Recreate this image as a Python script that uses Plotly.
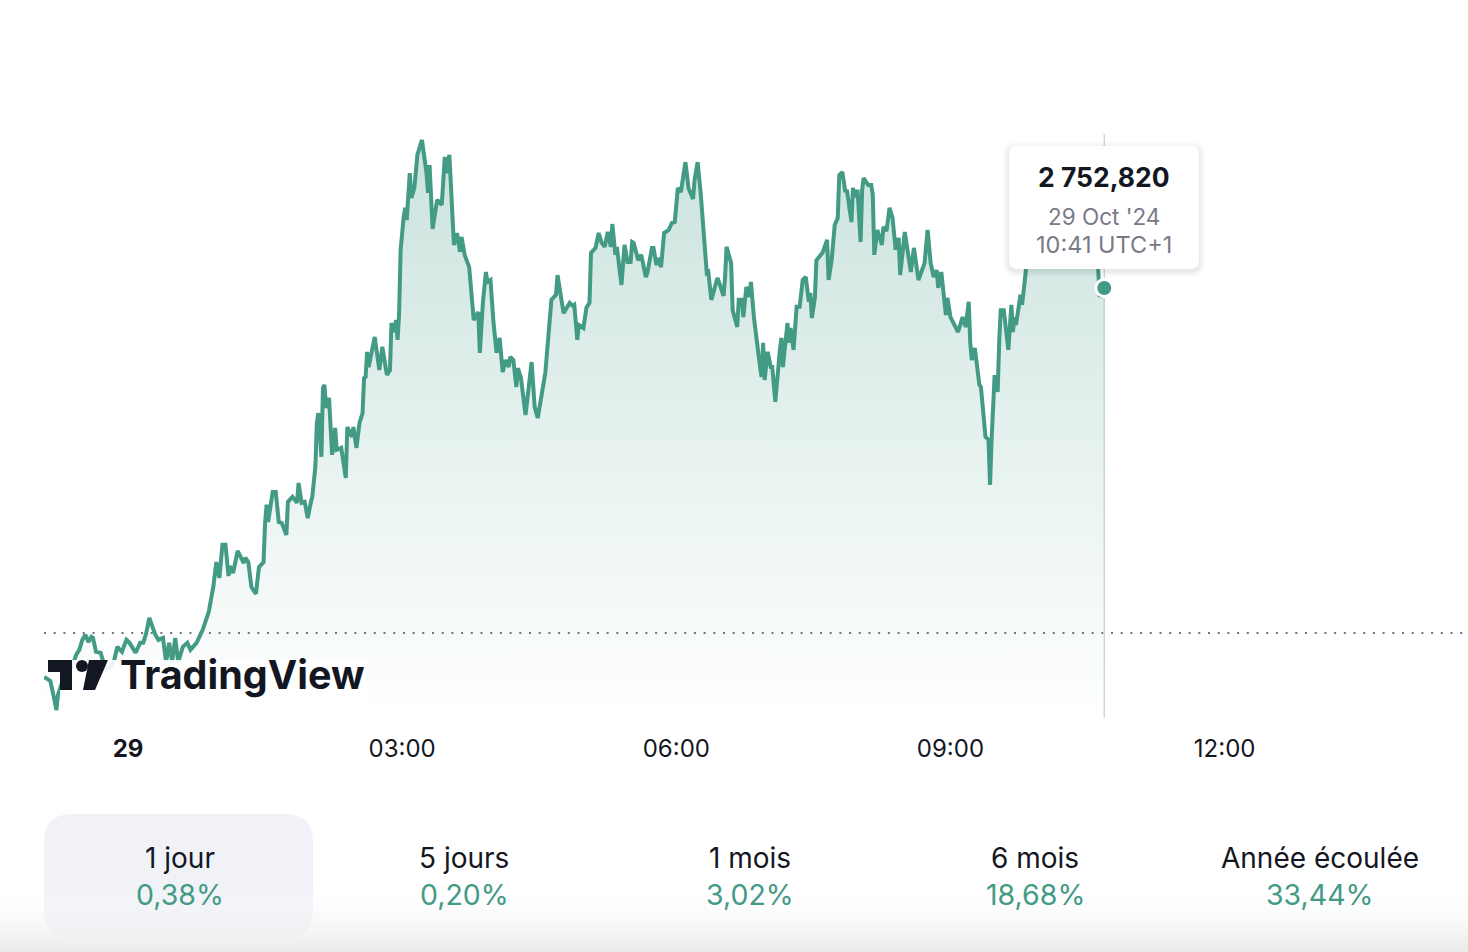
"""Gold price, 1 day view (TradingView mini chart)"""

import plotly.graph_objects as go

WIDTH = 1468
HEIGHT = 952

# minutes since midnight on 29 Oct '24, UTC+1
minutes = [
    -55, -51, -49, -47, -46, -41, -37, -34, -32, -30, -28, -26, -24, -23, -21, -18, -15, -12, -9, -7,
    -4, -1, 1, 5, 8, 10, 12, 14, 18, 20, 23, 25, 27, 29, 31, 33, 36, 39, 41, 45,
    49, 53, 56, 58, 60, 62, 64, 66, 67, 69, 72, 76, 77, 79, 81, 84, 86, 89, 90, 91,
    92, 95, 97, 99, 101, 104, 105, 108, 111, 112, 114, 116, 118, 120, 121, 123, 124, 125, 127, 128,
    129, 130, 132, 134, 136, 137, 140, 143, 144, 147, 148, 150, 152, 154, 155, 156, 157, 158, 162, 165,
    167, 170, 172, 173, 175, 176, 177, 178, 179, 181, 182, 183, 185, 186, 188, 190, 193, 196, 197, 198,
    200, 203, 206, 208, 209, 211, 214, 216, 218, 219, 221, 224, 227, 230, 231, 233, 235, 236, 238, 240,
    242, 244, 246, 248, 250, 251, 253, 255, 256, 258, 261, 265, 267, 269, 274, 278, 281, 282, 286, 290,
    292, 293, 295, 296, 299, 301, 303, 304, 307, 309, 311, 313, 315, 317, 318, 320, 321, 324, 326, 328,
    330, 331, 332, 335, 337, 340, 341, 344, 345, 347, 348, 350, 352, 355, 357, 359, 361, 363, 364, 366,
    368, 371, 372, 374, 376, 378, 380, 381, 383, 387, 388, 391, 392, 393, 396, 397, 400, 401, 403, 404,
    406, 408, 409, 411, 415, 416, 417, 418, 420, 422, 423, 425, 428, 429, 430, 433, 434, 435, 437, 439,
    441, 443, 445, 447, 448, 449, 451, 452, 456, 459, 460, 462, 464, 466, 467, 469, 471, 472, 475, 476,
    477, 479, 481, 482, 483, 486, 488, 489, 490, 492, 495, 496, 498, 500, 502, 504, 506, 507, 510, 514,
    516, 519, 523, 525, 527, 529, 531, 532, 534, 537, 538, 540, 542, 545, 548, 550, 552, 553, 554, 556,
    559, 560, 563, 565, 566, 567, 569, 571, 572, 573, 575, 578, 580, 581, 582, 583, 586, 587, 588, 590,
    594, 599, 605, 612, 619, 625, 632, 636, 637, 638, 641,
]
prices = [
    2741.07, 2740.95, 2740.53, 2740.07, 2740.53, 2741.22, 2741.34, 2741.74, 2741.89, 2742.19,
    2742.34, 2742.13, 2742.28, 2742.25, 2741.83, 2741.80, 2741.34, 2741.34, 2741.58, 2741.98,
    2741.83, 2742.19, 2742.10, 2741.80, 2742.10, 2742.10, 2742.40, 2742.85, 2742.34, 2742.19,
    2742.25, 2741.52, 2742.10, 2741.52, 2742.25, 2741.52, 2741.98, 2742.10, 2741.89, 2742.10,
    2742.49, 2743.03, 2743.79, 2744.54, 2744.06, 2745.06, 2745.06, 2744.12, 2744.42, 2744.21,
    2744.88, 2744.51, 2744.67, 2744.54, 2743.79, 2743.58, 2744.39, 2744.54, 2745.72, 2746.27,
    2745.75, 2746.66, 2746.66, 2745.75, 2745.72, 2745.36, 2746.36, 2746.51, 2746.33, 2746.93,
    2746.33, 2746.36, 2745.87, 2746.33, 2746.51, 2747.41, 2748.74, 2749.04, 2747.72, 2749.80,
    2749.89, 2749.20, 2749.50, 2747.78, 2748.59, 2747.93, 2747.99, 2747.08, 2748.62, 2748.32,
    2748.62, 2747.99, 2748.74, 2749.04, 2750.10, 2750.13, 2750.89, 2750.43, 2751.34, 2750.34,
    2751.04, 2750.19, 2750.34, 2751.76, 2751.49, 2751.85, 2751.25, 2752.06, 2753.97, 2754.96,
    2755.24, 2754.87, 2756.29, 2755.54, 2755.84, 2756.84, 2757.29, 2756.29, 2755.69, 2756.53,
    2754.60, 2755.48, 2755.33, 2756.78, 2756.29, 2756.84, 2754.12, 2754.48, 2753.91, 2754.36,
    2753.82, 2753.45, 2751.85, 2752.09, 2750.86, 2752.37, 2753.30, 2753.00, 2753.06, 2751.76,
    2750.86, 2751.31, 2750.28, 2750.64, 2750.43, 2750.74, 2750.64, 2749.83, 2750.40, 2750.10,
    2748.98, 2750.58, 2749.23, 2748.89, 2750.25, 2752.46, 2752.61, 2753.21, 2752.06, 2752.37,
    2752.28, 2752.31, 2751.25, 2751.70, 2751.61, 2752.22, 2752.37, 2753.88, 2754.03, 2754.48,
    2754.18, 2754.06, 2754.51, 2754.06, 2754.75, 2753.82, 2754.06, 2752.91, 2754.12, 2753.60,
    2753.60, 2754.21, 2754.18, 2753.66, 2753.82, 2753.15, 2753.27, 2754.03, 2754.03, 2753.51,
    2753.73, 2753.45, 2754.48, 2754.57, 2754.78, 2754.81, 2755.84, 2755.72, 2756.02, 2756.62,
    2755.84, 2755.51, 2756.08, 2756.62, 2755.69, 2754.48, 2753.27, 2753.30, 2752.46, 2753.12,
    2753.00, 2752.58, 2753.12, 2754.06, 2753.57, 2752.15, 2751.64, 2752.46, 2752.46, 2751.94,
    2752.85, 2752.55, 2753.00, 2751.91, 2750.43, 2750.13, 2751.16, 2750.04, 2750.89, 2750.43,
    2750.43, 2749.38, 2750.95, 2751.31, 2750.43, 2751.76, 2751.16, 2751.61, 2750.95, 2752.25,
    2752.25, 2753.06, 2753.15, 2752.40, 2752.67, 2751.91, 2752.52, 2753.66, 2753.88, 2754.27,
    2753.06, 2753.66, 2754.72, 2754.93, 2756.23, 2756.32, 2755.72, 2755.78, 2754.81, 2755.84,
    2755.57, 2755.78, 2754.21, 2755.78, 2756.14, 2755.93, 2755.93, 2755.63, 2753.82, 2754.57,
    2754.12, 2754.66, 2754.54, 2755.24, 2754.93, 2753.97, 2754.33, 2753.21, 2754.51, 2753.30,
    2754.03, 2753.06, 2753.57, 2754.57, 2753.57, 2753.15, 2753.36, 2752.82, 2753.30, 2752.00,
    2752.52, 2751.94, 2751.76, 2751.49, 2751.94, 2751.64, 2752.40, 2751.16, 2750.64, 2751.01,
    2749.89, 2749.83, 2748.32, 2748.23, 2746.87, 2748.23, 2750.19, 2749.68, 2751.19, 2752.15,
    2752.15, 2750.95, 2752.31, 2751.49, 2751.94, 2751.70, 2752.61, 2752.31, 2752.70, 2753.57,
    2754.42, 2755.02, 2755.48, 2755.17, 2755.78, 2755.33, 2754.87, 2754.12, 2753.36, 2752.55,
    2752.82,
]
prev_close = 2742.40

tick_minutes = [0, 180, 360, 540, 720]
tick_labels = ["<b>29</b>", "03:00", "06:00", "09:00", "12:00"]

periods = ["1 jour", "5 jours", "1 mois", "6 mois", "Année écoulée"]
changes = ["0,38%", "0,20%", "3,02%", "18,68%", "33,44%"]
period_centres = [180, 464, 750, 1035, 1320]

GREEN = "#439a85"
DARK = "#131722"
GREY = "#787b86"
FONT = "Inter"


def px(x):
    return x / WIDTH


def py(y):
    return 1 - y / HEIGHT


def paper_path(points):
    return "M " + " L ".join(f"{px(x)},{py(y)}" for x, y in points) + " Z"


def rounded_rect(x0, y0, x1, y1, r):
    """Rounded rectangle as an svg path, in paper coordinates"""
    rx, ry = r / WIDTH, r / HEIGHT
    l, r_, t, b = px(x0), px(x1), py(y0), py(y1)
    return (
        f"M {l + rx},{t} L {r_ - rx},{t} Q {r_},{t} {r_},{t - ry} "
        f"L {r_},{b + ry} Q {r_},{b} {r_ - rx},{b} "
        f"L {l + rx},{b} Q {l},{b} {l},{b + ry} "
        f"L {l},{t - ry} Q {l},{t} {l + rx},{t} Z"
    )


fig = go.Figure()

# Price line with the gradient under it
fig.add_trace(go.Scatter(
    x=minutes, y=prices,
    mode='lines',
    line=dict(color=GREEN, width=4, simplify=False),
    fill='tozeroy',
    fillgradient=dict(
        type='vertical',
        start=2739.83,
        stop=2757.3,
        colorscale=[[0, 'rgba(67,154,133,0)'], [1, 'rgba(67,154,133,0.28)']],
    ),
    hoverinfo='skip',
))

# Last point
fig.add_trace(go.Scatter(
    x=minutes[-1:], y=prices[-1:],
    mode='markers',
    marker=dict(size=17, color=GREEN, line=dict(color='white', width=3)),
    hoverinfo='skip',
))

# Fade at the bottom of the page
fig.add_trace(go.Scatter(
    x=[0, 1, 1, 0], y=[0, 0, 1, 1],
    xaxis='x2', yaxis='y2',
    mode='lines',
    line=dict(width=0),
    fill='toself',
    fillgradient=dict(
        type='vertical',
        start=0,
        stop=1,
        colorscale=[[0, 'rgba(232,234,234,1)'], [1, 'rgba(255,255,255,0)']],
    ),
    hoverinfo='skip',
))

shapes = [
    # selected period
    dict(type='path', path=rounded_rect(44, 814, 313, 938, 28), xref='paper', yref='paper',
         fillcolor='#f0f2f8', line=dict(width=0), layer='below'),
    # previous close
    dict(type='line', xref='paper', x0=px(44), x1=1, yref='y', y0=prev_close, y1=prev_close,
         line=dict(color='#70737e', width=2, dash='2px,7.7px'), layer='below'),
    # crosshair
    dict(type='line', xref='x', x0=minutes[-1], x1=minutes[-1], yref='paper', y0=py(718), y1=py(134),
         line=dict(color='#c7ddd4', width=1.5), layer='below'),
    # logo backdrop and mark
    dict(type='rect', xref='paper', yref='paper', x0=px(60), x1=px(366), y0=py(700), y1=py(660),
         fillcolor='white', opacity=0.9, line=dict(width=0)),
    dict(type='path', xref='paper', yref='paper', fillcolor=DARK, line=dict(width=0),
         path=paper_path([(48, 660), (72, 660), (72, 690), (60, 690), (60, 672), (48, 672)])),
    dict(type='path', xref='paper', yref='paper', fillcolor=DARK, line=dict(width=0),
         path=paper_path([(89, 660), (108, 660), (95, 690), (83, 690)])),
    dict(type='circle', xref='paper', yref='paper', fillcolor=DARK, line=dict(width=0),
         x0=px(76), x1=px(88), y0=py(672), y1=py(660)),
]

# Tooltip shadow, then the box
for grow, alpha in [(7, 0.012), (5, 0.018), (3, 0.025), (1.5, 0.035)]:
    shapes.append(dict(type='path', xref='paper', yref='paper', line=dict(width=0),
                       path=rounded_rect(1009 - grow, 146 - grow + 2, 1199 + grow, 269 + grow + 2, 8 + grow),
                       fillcolor=f'rgba(19,23,34,{alpha})'))
shapes.append(dict(type='path', xref='paper', yref='paper', line=dict(width=0),
                   path=rounded_rect(1009, 146, 1199, 269, 8), fillcolor='white'))

annotations = [
    dict(text="TradingView", x=px(118), y=py(675), xanchor='left', yanchor='middle',
         font=dict(family=FONT, size=39.5, color=DARK, weight=700)),
    dict(text="<b>2 752,820</b>", x=px(1104), y=py(177), xanchor='center', yanchor='middle',
         font=dict(family=FONT, size=26.5, color=DARK)),
    dict(text="29 Oct '24", x=px(1104), y=py(217), xanchor='center', yanchor='middle',
         font=dict(family=FONT, size=22.5, color=GREY)),
    dict(text="10:41 UTC+1", x=px(1104), y=py(245), xanchor='center', yanchor='middle',
         font=dict(family=FONT, size=23.5, color=GREY)),
]
for name, change, centre in zip(periods, changes, period_centres):
    annotations.append(dict(text=name, x=px(centre), y=py(858), xanchor='center', yanchor='middle',
                            font=dict(family=FONT, size=28, color=DARK)))
    annotations.append(dict(text=change, x=px(centre), y=py(894), xanchor='center', yanchor='middle',
                            font=dict(family=FONT, size=28.5, color=GREEN)))
for a in annotations:
    a.update(xref='paper', yref='paper', showarrow=False)

fig.update_layout(
    width=WIDTH, height=HEIGHT,
    margin=dict(l=0, r=0, t=0, b=0),
    showlegend=False,
    plot_bgcolor='white',
    paper_bgcolor='white',
    hovermode=False,
    shapes=shapes,
    annotations=annotations,
    xaxis=dict(
        domain=[px(44), 1],
        range=[-55.15, 879.8],
        tickmode='array',
        tickvals=tick_minutes,
        ticktext=tick_labels,
        ticks='outside',
        ticklen=9,
        tickcolor='rgba(0,0,0,0)',
        tickfont=dict(family=FONT, size=24, color=DARK),
        showgrid=False,
        zeroline=False,
        showline=False,
    ),
    yaxis=dict(
        domain=[py(718), py(134)],
        range=[2739.83, 2757.47],
        visible=False,
    ),
    xaxis2=dict(domain=[0, 1], range=[0, 1], visible=False, anchor='y2'),
    yaxis2=dict(domain=[0, py(885)], range=[0, 1], visible=False, anchor='x2'),
)

fig.write_html("out.html", config=dict(displayModeBar=False),
               post_script="document.body.style.margin='0';")
